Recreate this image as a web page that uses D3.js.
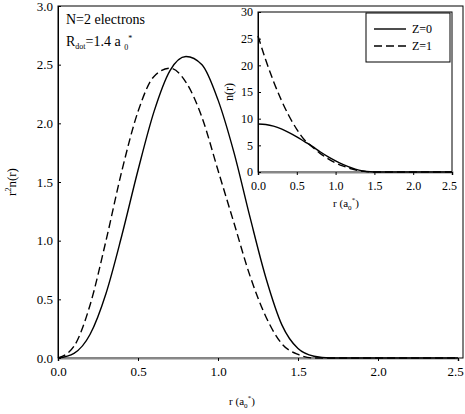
<!DOCTYPE html><html><head><meta charset="utf-8">
<script src="https://cdn.jsdelivr.net/npm/d3@7"></script>
<style>body{margin:0;background:#fff}svg text{font-family:"Liberation Serif",serif !important;fill:#000}</style></head><body>
<svg id="c" width="465" height="414"></svg>
<script>
const r = [0,0.1,0.2,0.3,0.4,0.5,0.6,0.7,0.8,0.9,1.0,1.1,1.2,1.3,1.4,1.5,1.6,1.7,1.8,2.5];
const mainZ0 = [0,0.04,0.2,0.55,1.05,1.6,2.1,2.45,2.57,2.5,2.2,1.75,1.2,0.68,0.28,0.08,0.015,0,0,0];
const mainZ1 = [0,0.1,0.45,1.0,1.6,2.1,2.4,2.47,2.35,2.05,1.6,1.15,0.7,0.35,0.12,0.03,0,0,0,0];
const insetZ0 = [9,8.9,8.6,8.1,7.4,6.6,5.7,4.8,3.8,2.9,2.1,1.4,0.8,0.35,0.1,0.01,0,0,0,0];
const insetZ1 = [25.5,21,17,13.5,10.5,8,6,4.7,3.5,2.5,1.7,1.1,0.6,0.25,0.07,0.01,0,0,0,0];
const xTicks = [0,0.5,1,1.5,2,2.5];
const mainYTicks = [0,0.5,1,1.5,2,2.5,3];
const insetYTicks = [0,5,10,15,20,25,30];
const legend = ["Z=0","Z=1"];

const svg = d3.select("#c");
function panel(x0,x1,y0,y1,ymax,yt,fmt,fs,z0,z1,boxR){
  const x = d3.scaleLinear([0,2.5],[x0,x1]);
  const y = d3.scaleLinear([0,ymax],[y0,y1]);
  svg.append("rect").attr("x",x0).attr("y",y1).attr("width",boxR-x0).attr("height",y0-y1).attr("fill","#fff").attr("stroke","#000");
  const gx = svg.append("g").attr("transform",`translate(0,${y0})`).call(d3.axisBottom(x).tickValues(xTicks).tickFormat(d3.format(".1f")).tickSize(3).tickPadding(6));
  gx.select(".domain").attr("stroke","#888").attr("stroke-width",2);
  gx.selectAll("text").filter(d=>d===2.5).attr("dx","-3");
  const gy = svg.append("g").attr("transform",`translate(${x0},0)`).call(d3.axisLeft(y).tickValues(yt).tickFormat(fmt).tickSize(-3).tickPadding(5));
  [gx,gy].forEach(g=>g.attr("font-family","Liberation Serif").attr("font-size",fs));
  const line = d3.line().x((d,i)=>x(r[i])).y(d=>y(d)).curve(d3.curveMonotoneX);
  svg.append("path").attr("d",line(z0)).attr("fill","none").attr("stroke","#000").attr("stroke-width",1.4);
  svg.append("path").attr("d",line(z1)).attr("fill","none").attr("stroke","#000").attr("stroke-width",1.4).attr("stroke-dasharray","8,4");
}
panel(58,458,358,6,3,mainYTicks,d3.format(".1f"),13,mainZ0,mainZ1,463);
panel(258,452,172,12,30,insetYTicks,d3.format("d"),12,insetZ0,insetZ1,452);
const lg = svg.append("g");
lg.append("rect").attr("x",366).attr("y",13).attr("width",84).attr("height",49).attr("fill","#fff").attr("stroke","#000");
legend.forEach((t,i)=>{
  const yy = 29+i*17;
  lg.append("line").attr("x1",374).attr("x2",406).attr("y1",yy).attr("y2",yy).attr("stroke","#000").attr("stroke-width",1.4).attr("stroke-dasharray",i?"8,4":null);
  lg.append("text").attr("x",412).attr("y",yy+4).style("font-size","12px").text(t);
});
svg.append("text").attr("x",66).attr("y",24).style("font-size","14px").text("N=2 electrons");
const rd = svg.append("text").attr("x",66).attr("y",46).style("font-size","14px");
rd.append("tspan").text("R");
rd.append("tspan").attr("dy",3).style("font-size","8px").text("dot");
rd.append("tspan").attr("dy",-3).text("=1.4 a ");
rd.append("tspan").attr("dy",4).style("font-size","8px").text("0");
rd.append("tspan").attr("dy",-9).style("font-size","8px").text("*");
function rLabel(cx,cy,fs){
  const t = svg.append("text").attr("x",cx).attr("y",cy).attr("text-anchor","middle").style("font-size",fs+"px");
  t.append("tspan").text("r (a");
  t.append("tspan").attr("dy",3).style("font-size",(fs*0.65)+"px").text("0");
  t.append("tspan").attr("dy",-8).style("font-size",(fs*0.65)+"px").text("*");
  t.append("tspan").attr("dy",5).text(")");
}
rLabel(242,405,11);
rLabel(346,207,11);
const yl = svg.append("text").attr("transform","translate(16,182) rotate(-90)").attr("text-anchor","middle").style("font-size","13px");
yl.append("tspan").text("r");
yl.append("tspan").attr("dy",-5).style("font-size","8px").text("2");
yl.append("tspan").attr("dy",5).text("n(r)");
svg.append("text").attr("transform","translate(233,92) rotate(-90)").attr("text-anchor","middle").style("font-size","12px").text("n(r)");
</script></body></html>
